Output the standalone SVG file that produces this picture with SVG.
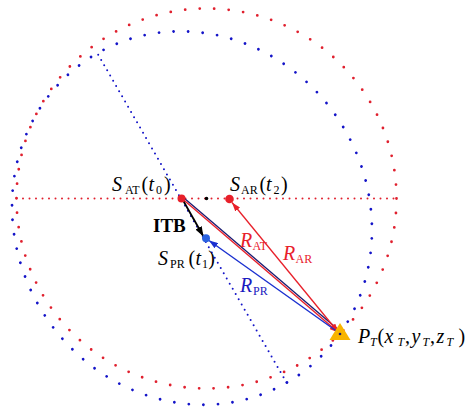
<svg xmlns="http://www.w3.org/2000/svg" width="474" height="413" viewBox="0 0 474 413">
<defs>
<style>
.dotc{fill:none;stroke-linecap:round;stroke-width:2.8}
.dotl{fill:none;stroke-linecap:round;stroke-width:2}
</style>
<marker id="ar" viewBox="0 0 10 7" refX="10" refY="3.5" markerWidth="9" markerHeight="6.3" markerUnits="userSpaceOnUse" orient="auto-start-reverse"><path d="M0,0 L10,3.5 L0,7 z" fill="#e8202a"/></marker>
<marker id="ab" viewBox="0 0 10 7" refX="10" refY="3.5" markerWidth="9" markerHeight="6.3" markerUnits="userSpaceOnUse" orient="auto-start-reverse"><path d="M0,0 L10,3.5 L0,7 z" fill="#1a30d0"/></marker>
<marker id="ak" viewBox="0 0 10 7" refX="10" refY="3.5" markerWidth="10" markerHeight="7" markerUnits="userSpaceOnUse" orient="auto"><path d="M0,0 L10,3.5 L0,7 z" fill="#000"/></marker>
</defs>
<rect width="474" height="413" fill="#fff"/>
<g id="orbits">
<circle cx="206.5" cy="198.5" r="190" class="dotc" stroke="#e0202e" stroke-dasharray="0 14.56"/>
<ellipse cx="192" cy="218" rx="190" ry="176.5" transform="rotate(60 192 218)" class="dotc" stroke="#1414c8" stroke-dasharray="0 14.58"/>
<line x1="16.5" y1="198.5" x2="396.5" y2="198.5" class="dotl" stroke="#e0202e" stroke-dasharray="0 6.5"/>
<line x1="286.5" y1="382.5" x2="97.5" y2="53.5" class="dotl" stroke="#1414c8" stroke-dasharray="0 6"/>
</g>
<g id="connectors">
<line x1="182.8" y1="197.1" x2="339.8" y2="331.1" stroke="#1a1a70" stroke-width="1.3"/>
<line x1="182" y1="198.5" x2="338.5" y2="332.5" stroke="#e8202a" stroke-width="1.4" marker-end="url(#ar)"/>
<line x1="232" y1="202.5" x2="338.5" y2="332.5" stroke="#e8202a" stroke-width="1.3" marker-start="url(#ar)" marker-end="url(#ar)"/>
<line x1="209" y1="240.5" x2="338.5" y2="332.5" stroke="#1a30d0" stroke-width="1.4" marker-start="url(#ab)"/>
<line x1="182" y1="198.5" x2="203.5" y2="236.5" stroke="#000" stroke-width="1.8" marker-end="url(#ak)"/>
</g>
<g font-family="'Liberation Serif', 'Times New Roman', serif" font-size="20">
<g id="S_AT">
<circle cx="181.5" cy="198.5" r="4" fill="#e8202a"/>
<text y="191" font-family="'Liberation Serif', serif" font-size="20"><tspan x="112" font-style="italic">S</tspan><tspan x="125" y="193.5" font-size="12">AT</tspan><tspan x="141.5" y="191">(</tspan><tspan x="148.5" font-style="italic">t</tspan><tspan x="156" y="193.5" font-size="12">0</tspan><tspan x="164" y="191">)</tspan></text>
</g>
<g id="center">
<circle cx="206.5" cy="198.5" r="1.8" fill="#000"/>
</g>
<g id="S_AR">
<circle cx="229.5" cy="199" r="4.3" fill="#e8202a"/>
<text y="191" font-family="'Liberation Serif', serif" font-size="20"><tspan x="230" font-style="italic">S</tspan><tspan x="241" y="193.5" font-size="12">AR</tspan><tspan x="259.5" y="191">(</tspan><tspan x="266" font-style="italic">t</tspan><tspan x="273.5" y="193.5" font-size="12">2</tspan><tspan x="281" y="191">)</tspan></text>
</g>
<g id="S_PR">
<circle cx="206" cy="238.3" r="4" fill="#2a62e0"/>
<text y="265" font-family="'Liberation Serif', serif" font-size="20"><tspan x="158" font-style="italic">S</tspan><tspan x="170" y="267.5" font-size="12">PR</tspan><tspan x="188.5" y="265">(</tspan><tspan x="195.5" font-style="italic">t</tspan><tspan x="202" y="267.5" font-size="12">1</tspan><tspan x="208.2" y="265">)</tspan></text>
</g>
<g id="ITB">
<text x="153" y="232" font-family="'Liberation Serif', serif" font-size="19" font-weight="bold">ITB</text>
</g>
<g id="labels">
<text y="247" fill="#e8202a" font-family="'Liberation Serif', serif" font-size="20"><tspan x="240" font-style="italic">R</tspan><tspan x="252.5" y="250" font-size="12">AT</tspan></text>
<text y="260" fill="#e8202a" font-family="'Liberation Serif', serif" font-size="20"><tspan x="283" font-style="italic">R</tspan><tspan x="295.5" y="263" font-size="12">AR</tspan></text>
<text y="292" fill="#1a1ac0" font-family="'Liberation Serif', serif" font-size="20"><tspan x="240" font-style="italic">R</tspan><tspan x="253" y="295" font-size="12">PR</tspan></text>
</g>
<g id="P_T">
<path d="M340,323 L350.5,340 L329.5,340 z" fill="#f8b400"/>
<circle cx="340" cy="334" r="1.3" fill="#1a1a70"/>
<text y="343" font-family="'Liberation Serif', serif" font-size="20" font-style="italic"><tspan x="358">P</tspan><tspan x="370" y="346" font-size="12">T</tspan><tspan x="377.5" y="343" font-style="normal">(</tspan><tspan x="384.5">x</tspan><tspan x="397.5" y="346" font-size="12">T</tspan><tspan x="405" y="343" font-style="normal">,</tspan><tspan x="411.5">y</tspan><tspan x="422.5" y="346" font-size="12">T</tspan><tspan x="430" y="343" font-style="normal">,</tspan><tspan x="436.5">z</tspan><tspan x="446.5" y="346" font-size="12">T</tspan><tspan x="458.5" y="343" font-style="normal">)</tspan></text>
</g>
</g>
</svg>
